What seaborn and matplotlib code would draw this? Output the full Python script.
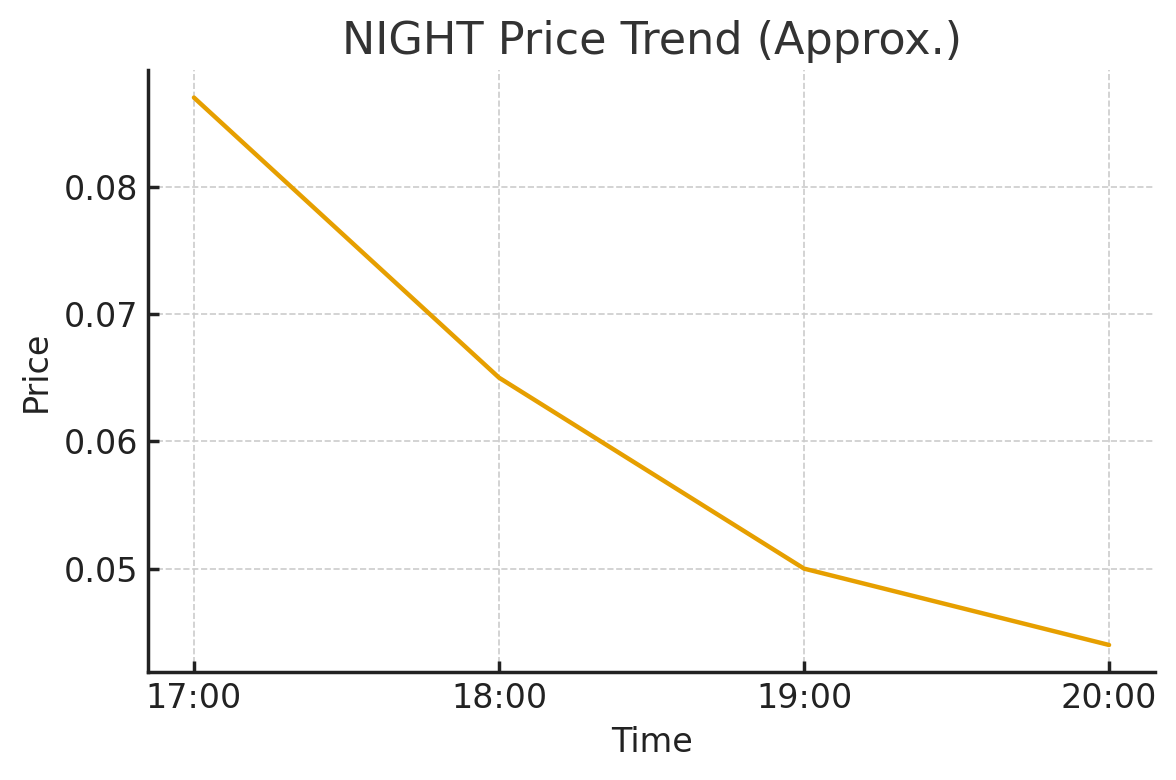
import pandas as pd
import seaborn as sns
import matplotlib.pyplot as plt

# approximate prices
times = ["17:00", "18:00", "19:00", "20:00"]
prices = [0.087, 0.065, 0.050, 0.044]

df = pd.DataFrame({"Time": times, "Price": prices})

sns.set_theme(style="ticks")
plt.rcParams['font.family'] = ['DejaVu Sans']

fig, ax = plt.subplots(figsize=(5.88, 3.9))
sns.lineplot(data=df, x="Time", y="Price", color="#E69F00", linewidth=1.6, ax=ax, sort=False)

ax.set_title("NIGHT Price Trend (Approx.)", fontsize=16, color="#333333")
ax.set_xlabel("Time", fontsize=12, color="#222222")
ax.set_ylabel("Price", fontsize=12, color="#222222")
ax.tick_params(direction="in", labelsize=12, colors="#222222", length=4)
ax.grid(True, linestyle="--", color="#cccccc", linewidth=0.6)
for s in ["top", "right"]:
    ax.spines[s].set_visible(False)
for s in ["left", "bottom"]:
    ax.spines[s].set_color("#222222")

plt.subplots_adjust(left=0.126, right=0.982, bottom=0.138, top=0.91)
plt.savefig("out.png", dpi=200)
